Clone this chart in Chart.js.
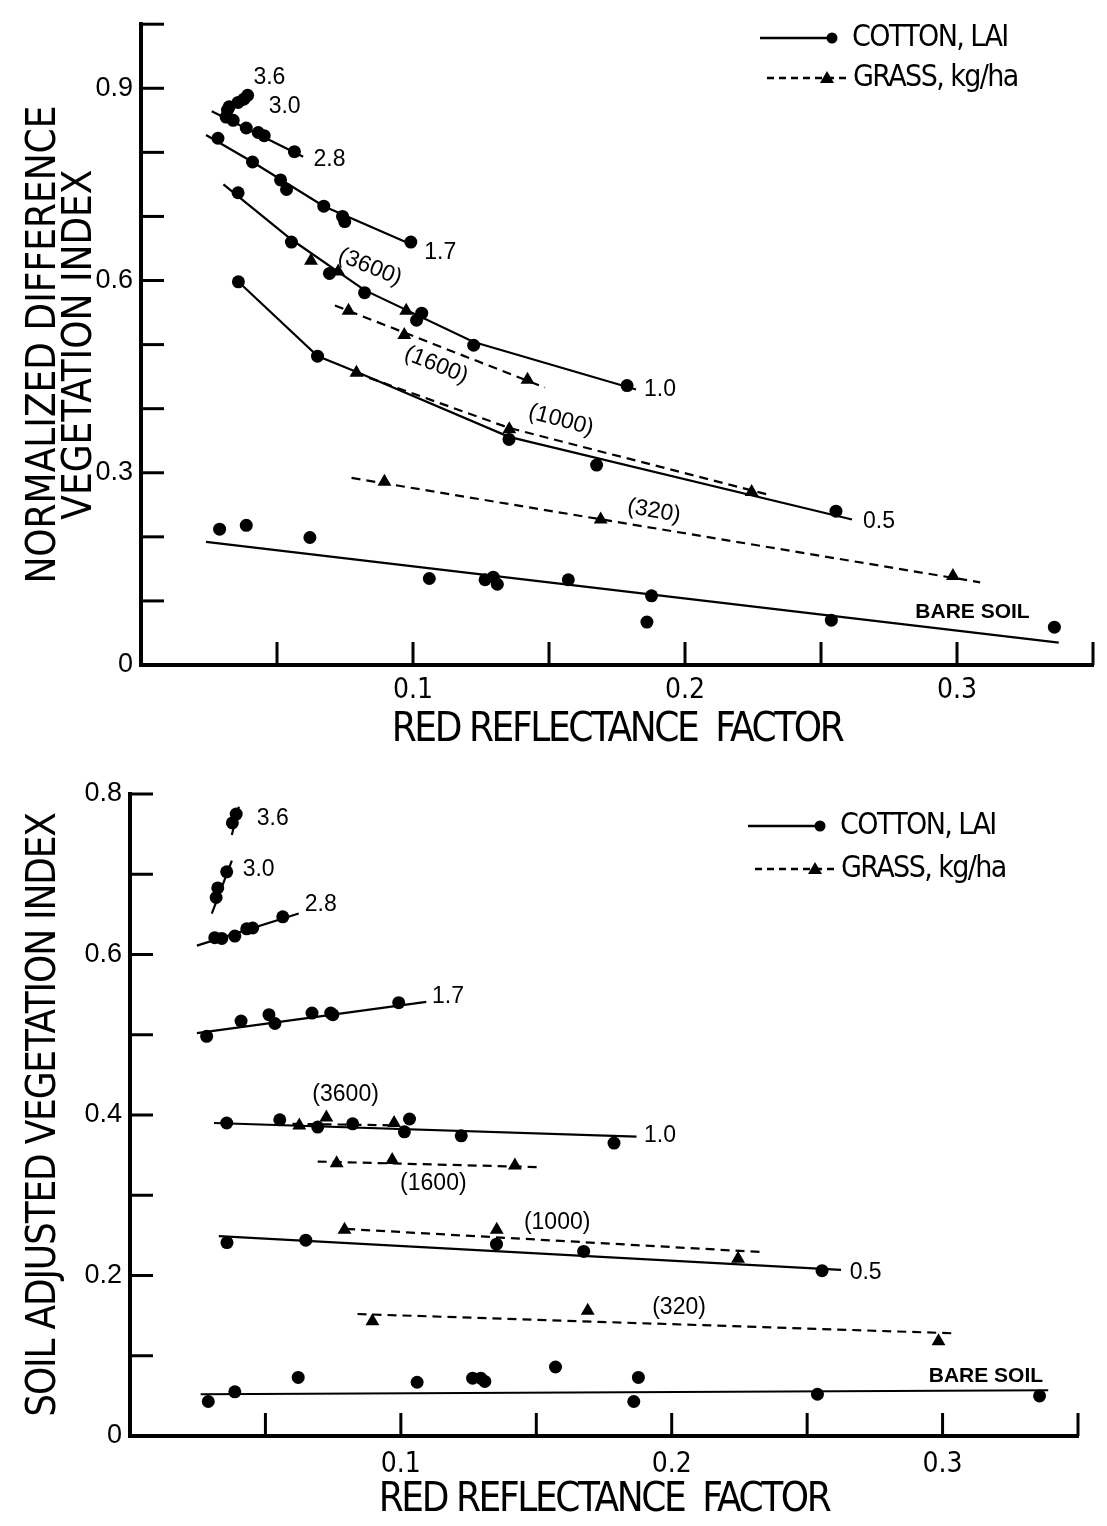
<!DOCTYPE html>
<html>
<head>
<meta charset="utf-8">
<script src="https://cdn.jsdelivr.net/npm/chart.js@4.4.0/dist/chart.umd.min.js"></script>
<style>
  html, body { margin: 0; padding: 0; background: #fff; }
  #wrap { position: relative; width: 1107px; height: 1526px; }
  #ndviChart { position: absolute; left: 0; top: 0; }
  #saviChart { position: absolute; left: 0; top: 760px; }
</style>
</head>
<body>
<div id="wrap">
  <canvas id="ndviChart" width="1107" height="760"></canvas>
  <canvas id="saviChart" width="1107" height="766"></canvas>
</div>
<script>
// ---- cotton, by leaf area index (red reflectance shared by both panels) ----
const lai36Red  = [0.0378, 0.0392];
const lai36Ndvi = [0.883, 0.889];
const lai36Savi = [0.764, 0.775];

const lai30Red  = [0.0318, 0.0324, 0.0357];
const lai30Ndvi = [0.866, 0.871, 0.878];
const lai30Savi = [0.671, 0.683, 0.703];

const lai28Red  = [0.0313, 0.0339, 0.0387, 0.0431, 0.0453, 0.0564];
const lai28Ndvi = [0.855, 0.850, 0.838, 0.831, 0.826, 0.801];
const lai28Savi = [0.621, 0.620, 0.623, 0.632, 0.633, 0.647];

const lai17Red  = [0.0283, 0.0410, 0.0513, 0.0535, 0.0672, 0.0741, 0.0749, 0.0992];
const lai17Ndvi = [0.822, 0.785, 0.757, 0.742, 0.716, 0.700, 0.692, 0.660];
const lai17Savi = [0.498, 0.517, 0.525, 0.514, 0.527, 0.527, 0.525, 0.540];

const lai10Red  = [0.0357, 0.0553, 0.0693, 0.0822, 0.1013, 0.1032, 0.1223, 0.1787];
const lai10Ndvi = [0.737, 0.660, 0.611, 0.581, 0.538, 0.549, 0.499, 0.436];
const lai10Savi = [0.390, 0.394, 0.385, 0.389, 0.379, 0.395, 0.374, 0.365];

const lai05Red  = [0.0358, 0.0649, 0.1353, 0.1675, 0.2555];
const lai05Ndvi = [0.598, 0.482, 0.352, 0.312, 0.240];
const lai05Savi = [0.241, 0.244, 0.239, 0.230, 0.206];

const soilRed  = [0.0289, 0.0387, 0.0621, 0.1060, 0.1265, 0.1295, 0.1310, 0.1571, 0.1877, 0.1860, 0.2538, 0.3358];
const soilNdvi = [0.212, 0.218, 0.199, 0.135, 0.133, 0.137, 0.126, 0.133, 0.108, 0.067, 0.070, 0.059];
const soilSavi = [0.043, 0.055, 0.073, 0.067, 0.072, 0.072, 0.068, 0.086, 0.073, 0.043, 0.052, 0.050];

// ---- grass, kg/ha ----
const g3600Red  = [0.0625, 0.0725, 0.0975];
const g3600Ndvi = [0.631, 0.614, 0.553];
const g3600Savi = [0.387, 0.397, 0.390];

const g1600Red  = [0.0763, 0.0968, 0.1421];
const g1600Ndvi = [0.553, 0.515, 0.445];
const g1600Savi = [0.340, 0.344, 0.337];

const g1000Red  = [0.0792, 0.1354, 0.2245];
const g1000Ndvi = [0.456, 0.368, 0.270];
const g1000Savi = [0.257, 0.257, 0.221];

const g320Red  = [0.0895, 0.1690, 0.2985];
const g320Ndvi = [0.286, 0.227, 0.139];
const g320Savi = [0.143, 0.156, 0.118];

// fitted lines as [red, index] pairs
const lai36NdviFit = [[0.0365, 0.879], [0.0398, 0.892]];
const lai36SaviFit = [[0.0376, 0.749], [0.0402, 0.784]];
const lai30NdviFit = [[0.0305, 0.862], [0.0370, 0.881]];
const lai30SaviFit = [[0.0302, 0.651], [0.0376, 0.717]];
const lai28NdviFit = [[0.0260, 0.864], [0.0596, 0.793]];
const lai28SaviFit = [[0.0247, 0.611], [0.0623, 0.651]];
const lai17NdviFit = [[0.0239, 0.827], [0.0410, 0.785], [0.0672, 0.716], [0.1007, 0.654]];
const lai17SaviFit = [[0.0247, 0.502], [0.1094, 0.541]];
const lai10NdviFit = [[0.0303, 0.750], [0.0553, 0.664], [0.0822, 0.585], [0.1223, 0.504], [0.1820, 0.430]];
const lai10SaviFit = [[0.0310, 0.390], [0.1870, 0.373]];
const lai05NdviFit = [[0.0358, 0.598], [0.0649, 0.482], [0.0800, 0.456], [0.1353, 0.356], [0.2614, 0.227]];
const lai05SaviFit = [[0.0328, 0.249], [0.2625, 0.207]];
const soilNdviFit  = [[0.0239, 0.192], [0.3374, 0.035]];
const soilSaviFit  = [[0.0261, 0.052], [0.3390, 0.057]];
const g3600SaviFit = [[0.0600, 0.389], [0.0990, 0.387]];
const g1600NdviFit = [[0.0713, 0.561], [0.1485, 0.433]];
const g1600SaviFit = [[0.0693, 0.342], [0.1520, 0.335]];
const g1000NdviFit = [[0.0787, 0.456], [0.1353, 0.370], [0.2305, 0.266]];
const g1000SaviFit = [[0.0798, 0.258], [0.2343, 0.229]];
const g320NdviFit  = [[0.0774, 0.292], [0.3085, 0.129]];
const g320SaviFit  = [[0.0840, 0.152], [0.3038, 0.128]];

// tick labels
const xTickLabels    = ['0.1', '0.2', '0.3'];
const ndviTickLabels = ['0', '0.3', '0.6', '0.9'];
const saviTickLabels = ['0', '0.2', '0.4', '0.6', '0.8'];

// curve labels: text, red, index, rotation (deg)
const ndviLabels = [
    ['3.6', 0.0472, 0.917, 0], ['3.0', 0.0528, 0.872, 0], ['2.8', 0.0693, 0.788, 0],
    ['1.7', 0.1100, 0.644, 0], ['(3600)', 0.0842, 0.621, 22], ['1.0', 0.1908, 0.429, 0],
    ['(1600)', 0.1085, 0.468, 22], ['(1000)', 0.1544, 0.382, 15], ['0.5', 0.2713, 0.223, 0],
    ['(320)', 0.1886, 0.240, 10], ['BARE SOIL', 0.3057, 0.082, 0]
];
const saviLabels = [
    ['3.6', 0.0527, 0.769, 0], ['3.0', 0.0475, 0.706, 0], ['2.8', 0.0704, 0.662, 0],
    ['1.7', 0.1174, 0.547, 0], ['(3600)', 0.0796, 0.425, 0], ['1.0', 0.1957, 0.374, 0],
    ['(1600)', 0.1120, 0.314, 0], ['(1000)', 0.1577, 0.266, 0], ['0.5', 0.2716, 0.203, 0],
    ['(320)', 0.2027, 0.160, 0], ['BARE SOIL', 0.3160, 0.075, 0]
];

const cotton = [
    { red: lai36Red, ndvi: lai36Ndvi, savi: lai36Savi, ndviFit: lai36NdviFit, saviFit: lai36SaviFit },
    { red: lai30Red, ndvi: lai30Ndvi, savi: lai30Savi, ndviFit: lai30NdviFit, saviFit: lai30SaviFit },
    { red: lai28Red, ndvi: lai28Ndvi, savi: lai28Savi, ndviFit: lai28NdviFit, saviFit: lai28SaviFit },
    { red: lai17Red, ndvi: lai17Ndvi, savi: lai17Savi, ndviFit: lai17NdviFit, saviFit: lai17SaviFit },
    { red: lai10Red, ndvi: lai10Ndvi, savi: lai10Savi, ndviFit: lai10NdviFit, saviFit: lai10SaviFit },
    { red: lai05Red, ndvi: lai05Ndvi, savi: lai05Savi, ndviFit: lai05NdviFit, saviFit: lai05SaviFit },
    { red: soilRed, ndvi: soilNdvi, savi: soilSavi, ndviFit: soilNdviFit, saviFit: soilSaviFit }
];
const grass = [
    { red: g3600Red, ndvi: g3600Ndvi, savi: g3600Savi, ndviFit: null, saviFit: g3600SaviFit },
    { red: g1600Red, ndvi: g1600Ndvi, savi: g1600Savi, ndviFit: g1600NdviFit, saviFit: g1600SaviFit },
    { red: g1000Red, ndvi: g1000Ndvi, savi: g1000Savi, ndviFit: g1000NdviFit, saviFit: g1000SaviFit },
    { red: g320Red, ndvi: g320Ndvi, savi: g320Savi, ndviFit: g320NdviFit, saviFit: g320SaviFit }
];

const NARROW = '"Liberation Sans Narrow", "DejaVu Sans Condensed", "Arial Narrow", sans-serif';
const SANS = '"Liberation Sans", Arial, sans-serif';
const DASH = [9, 6];

const fmt = v => String(Math.round(v * 100) / 100);

function buildDatasets(key) {
    const sets = [];
    const add = (s, dash, point, r) => {
        const fit = s[key + 'Fit'];
        if (fit) {
            sets.push({
                data: fit.map(([x, y]) => ({ x, y })),
                showLine: true, pointRadius: 0, borderColor: '#000',
                borderWidth: 2.2, borderDash: dash, tension: 0, order: 2
            });
        }
        sets.push({
            data: s.red.map((x, i) => ({ x, y: s[key][i] })),
            showLine: false, pointStyle: point, pointRadius: r,
            backgroundColor: '#000', borderColor: '#000', borderWidth: 0, order: 1
        });
    };
    cotton.forEach(s => add(s, [], 'circle', 6.5));
    grass.forEach(s => add(s, DASH, 'triangle', 8));
    return sets;
}

// tick marks point into the plot
const inwardTicks = {
    id: 'inwardTicks',
    beforeDatasetsDraw(chart) {
        const { ctx, chartArea: a, scales: { x, y } } = chart;
        ctx.save();
        ctx.strokeStyle = '#000';
        ctx.lineWidth = 3;
        x.ticks.forEach(t => {
            if (t.value === 0) return;
            const px = x.getPixelForValue(t.value);
            ctx.beginPath(); ctx.moveTo(px, a.bottom); ctx.lineTo(px, a.bottom - 23); ctx.stroke();
        });
        y.ticks.forEach(t => {
            if (t.value === 0) return;
            const py = y.getPixelForValue(t.value);
            ctx.beginPath(); ctx.moveTo(a.left, py); ctx.lineTo(a.left + 23, py); ctx.stroke();
        });
        ctx.restore();
    }
};

// squeeze axis titles a little (the original lettering is very condensed)
function tightTitles(xSpacing, ySpacing) {
    return {
        id: 'tightTitles',
        afterLayout(chart) {
            [['x', xSpacing], ['y', ySpacing]].forEach(([id, sp]) => {
                const s = chart.scales[id];
                if (!s || s._tight || !sp) return;
                const orig = s.drawTitle.bind(s);
                s.drawTitle = function () {
                    chart.ctx.save();
                    chart.ctx.letterSpacing = sp;
                    orig();
                    chart.ctx.restore();
                };
                s._tight = true;
            });
        }
    };
}

function labelPlugin(items) {
    return {
        id: 'curveLabels',
        afterDatasetsDraw(chart) {
            const { ctx, scales: { x, y } } = chart;
            ctx.save();
            ctx.fillStyle = '#000';
            ctx.textAlign = 'center';
            ctx.textBaseline = 'middle';
            items.forEach(([text, rx, vy, rot]) => {
                ctx.save();
                ctx.translate(x.getPixelForValue(rx), y.getPixelForValue(vy));
                ctx.rotate(rot * Math.PI / 180);
                ctx.font = text === 'BARE SOIL' ? 'bold 21px ' + SANS : '23px ' + SANS;
                ctx.fillText(text, 0, 0);
                ctx.restore();
            });
            ctx.restore();
        }
    };
}

function legendPlugin(x0, y0, gap) {
    return {
        id: 'keyBox',
        afterDraw(chart) {
            const ctx = chart.ctx;
            ctx.save();
            ctx.strokeStyle = '#000';
            ctx.fillStyle = '#000';
            ctx.lineWidth = 2.5;
            // cotton
            ctx.beginPath(); ctx.moveTo(x0, y0); ctx.lineTo(x0 + 72, y0); ctx.stroke();
            ctx.beginPath(); ctx.arc(x0 + 72, y0, 5.5, 0, Math.PI * 2); ctx.fill();
            // grass
            const y1 = y0 + gap;
            ctx.setLineDash([7, 5]);
            ctx.beginPath(); ctx.moveTo(x0 + 7, y1); ctx.lineTo(x0 + 87, y1); ctx.stroke();
            ctx.setLineDash([]);
            ctx.beginPath();
            ctx.moveTo(x0 + 67, y1 - 7); ctx.lineTo(x0 + 74, y1 + 5); ctx.lineTo(x0 + 60, y1 + 5);
            ctx.closePath(); ctx.fill();
            ctx.font = '30px ' + NARROW;
            ctx.letterSpacing = '-1.6px';
            ctx.textAlign = 'left';
            ctx.textBaseline = 'middle';
            ctx.fillText('COTTON, LAI', x0 + 92, y0);
            ctx.fillText('GRASS, kg/ha', x0 + 93, y1);
            ctx.restore();
        }
    };
}

function makeChart(id, key, cfg) {
    return new Chart(document.getElementById(id), {
        type: 'scatter',
        data: { datasets: buildDatasets(key) },
        options: {
            responsive: false,
            animation: false,
            layout: { padding: cfg.padding },
            plugins: { legend: { display: false }, tooltip: { enabled: false } },
            scales: {
                x: {
                    type: 'linear', min: 0, max: 0.35,
                    grid: { display: false, drawTicks: false },
                    border: { display: true, color: '#000', width: 4 },
                    ticks: {
                        stepSize: 0.05, autoSkip: false, maxRotation: 0, padding: cfg.xTickPad,
                        color: '#000', font: { family: NARROW, size: 28 },
                        callback: v => xTickLabels.includes(fmt(v)) ? fmt(v) : ''
                    },
                    title: {
                        display: true, text: 'RED REFLECTANCE  FACTOR', color: '#000',
                        font: { family: NARROW, size: 40, lineHeight: 1 },
                        padding: { top: 0, bottom: cfg.xTitlePad }
                    },
                    afterFit: s => { s.height = cfg.xHeight; }
                },
                y: {
                    type: 'linear', min: 0, max: cfg.yMax,
                    grid: { display: false, drawTicks: false },
                    border: { display: true, color: '#000', width: 4 },
                    ticks: {
                        stepSize: 0.1, autoSkip: false, padding: 8,
                        color: '#000', font: { family: SANS, size: 27 },
                        callback: v => cfg.yLabels.includes(fmt(v)) ? fmt(v) : ''
                    },
                    title: {
                        display: true, text: cfg.yTitle, color: '#000',
                        font: { family: NARROW, size: 40, lineHeight: 0.9 },
                        padding: { top: 27, bottom: 0 }
                    },
                    afterFit: s => { s.width = cfg.yWidth; }
                }
            }
        },
        plugins: [inwardTicks, tightTitles('-2.4px', cfg.ySpacing), labelPlugin(cfg.labels),
                  legendPlugin(cfg.keyX, cfg.keyY, cfg.keyGap)]
    });
}

makeChart('ndviChart', 'ndvi', {
    padding: { top: 18, right: 14, left: 0, bottom: 0 },
    yWidth: 141, xHeight: 95, xTickPad: 9, xTitlePad: 9, yMax: 1.0,
    yLabels: ndviTickLabels,
    yTitle: ['NORMALIZED DIFFERENCE', 'VEGETATION INDEX'],
    ySpacing: null,
    labels: ndviLabels,
    keyX: 760, keyY: 38, keyGap: 40
});

makeChart('saviChart', 'savi', {
    padding: { top: 34, right: 29, left: 0, bottom: 0 },
    yWidth: 130, xHeight: 90, xTickPad: 12, xTitlePad: 5, yMax: 0.8,
    yLabels: saviTickLabels,
    yTitle: 'SOIL ADJUSTED VEGETATION INDEX',
    ySpacing: '-1.2px',
    labels: saviLabels,
    keyX: 748, keyY: 66, keyGap: 43
});
</script>
</body>
</html>
